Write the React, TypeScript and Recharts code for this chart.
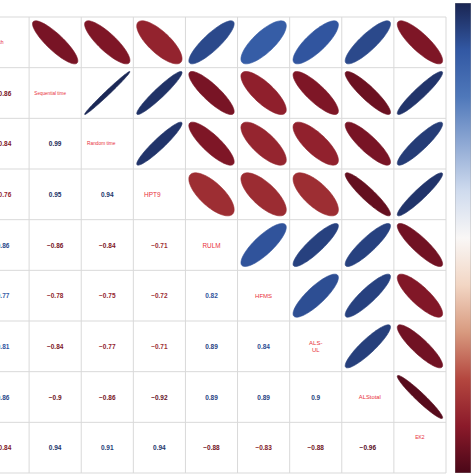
import React from "react";
import {
  ScatterChart,
  Scatter,
  XAxis,
  YAxis,
  CartesianGrid,
  BarChart,
  Bar,
} from "recharts";

const VARS = [
  "Strength",
  "Sequential time",
  "Random time",
  "HPT9",
  "RULM",
  "HFMS",
  "ALS-UL",
  "ALStotal",
  "EK2",
];

// lower triangle of the correlation matrix, row i holds cols 0..i-1
const CORR_LOWER = [
  [],
  [-0.86],
  [-0.84, 0.99],
  [-0.76, 0.95, 0.94],
  [0.86, -0.86, -0.84, -0.71],
  [0.77, -0.78, -0.75, -0.72, 0.82],
  [0.81, -0.84, -0.77, -0.71, 0.89, 0.84],
  [0.86, -0.9, -0.86, -0.92, 0.89, 0.89, 0.9],
  [-0.84, 0.94, 0.91, 0.94, -0.88, -0.83, -0.88, -0.96],
];

const COLORBAR_TICKS = [-1, -0.8, -0.6, -0.4, -0.2, 0, 0.2, 0.4, 0.6, 0.8, 1];

const PALETTE: [number, string][] = [
  [-1, "#4a0718"],
  [-0.8, "#8b1a2a"],
  [-0.6, "#b4473f"],
  [-0.4, "#d89a7f"],
  [-0.2, "#f2d6c4"],
  [0, "#f9f7f6"],
  [0.2, "#cfdbee"],
  [0.4, "#8fa9d4"],
  [0.6, "#4f78ba"],
  [0.8, "#3258a3"],
  [1, "#1a2552"],
];

const N = VARS.length;
const PLOT_W = 469;
const PLOT_H = 456;
const CELL_W = PLOT_W / N;
const CELL_H = PLOT_H / N;
const EW = CELL_W * 0.87;
const EH = CELL_H * 0.85;

const LABEL_STYLE: Record<string, { size: number; dx?: number; dy?: number }> = {
  Strength: { size: 5, dx: -9 },
  "Sequential time": { size: 4.6, dx: -5 },
  "Random time": { size: 4.8, dx: -6 },
  HPT9: { size: 6.5, dx: -7 },
  RULM: { size: 6.4 },
  HFMS: { size: 6 },
  "ALS-UL": { size: 6 },
  ALStotal: { size: 5.8, dx: 2 },
  EK2: { size: 5, dy: -11 },
};

function hexToRgb(h: string) {
  const n = parseInt(h.slice(1), 16);
  return [(n >> 16) & 255, (n >> 8) & 255, n & 255];
}

function corrColor(v: number) {
  for (let i = 0; i < PALETTE.length - 1; i++) {
    const [a, ca] = PALETTE[i];
    const [b, cb] = PALETTE[i + 1];
    if (v >= a && v <= b) {
      const t = (v - a) / (b - a);
      const A = hexToRgb(ca);
      const B = hexToRgb(cb);
      const c = A.map((x, k) => Math.round(x + (B[k] - x) * t));
      return `rgb(${c[0]},${c[1]},${c[2]})`;
    }
  }
  return PALETTE[PALETTE.length - 1][1];
}

function corr(i: number, j: number) {
  if (i === j) return 1;
  return i > j ? CORR_LOWER[i][j] : CORR_LOWER[j][i];
}

const upperData: { x: number; y: number; r: number }[] = [];
const lowerData: { x: number; y: number; r: number }[] = [];
const diagData: { x: number; y: number; label: string }[] = [];
for (let i = 0; i < N; i++) {
  for (let j = 0; j < N; j++) {
    if (i === j) diagData.push({ x: j, y: i, label: VARS[i] });
    else if (j > i) upperData.push({ x: j, y: i, r: corr(i, j) });
    else lowerData.push({ x: j, y: i, r: corr(i, j) });
  }
}

const GRID_TICKS = Array.from({ length: N + 1 }, (_, k) => k - 0.5);

function Ellipse(props: any) {
  const { cx, cy, payload } = props;
  const d = Math.acos(payload.r);
  const pts: string[] = [];
  for (let i = 0; i < 72; i++) {
    const k = (i / 72) * 2 * Math.PI;
    const x = Math.cos(k + d / 2) / 2;
    const y = Math.cos(k - d / 2) / 2;
    pts.push(`${(cx + x * EW).toFixed(2)},${(cy - y * EH).toFixed(2)}`);
  }
  const col = corrColor(payload.r);
  return <path d={"M" + pts.join("L") + "Z"} fill={col} stroke={col} strokeWidth={0.6} />;
}

function fmt(v: number) {
  return String(v).replace("-", "\u2212");
}

function NumberCell(props: any) {
  const { cx, cy, payload } = props;
  return (
    <text
      x={cx}
      y={cy}
      textAnchor="middle"
      dominantBaseline="central"
      fontSize={6.5}
      fontWeight="bold"
      fontFamily="Liberation Sans, Arial, sans-serif"
      fill={corrColor(payload.r)}
    >
      {fmt(payload.r)}
    </text>
  );
}

function DiagLabel(props: any) {
  const { cx, cy, payload } = props;
  const st = LABEL_STYLE[payload.label] || { size: 6 };
  const x = cx + (st.dx || 0);
  const y = cy + (st.dy || 0);
  const common = {
    textAnchor: "middle" as const,
    fontSize: st.size,
    fontFamily: "Liberation Sans, Arial, sans-serif",
    fill: "#e8303a",
  };
  if (payload.label.includes("-")) {
    const [a, b] = payload.label.split("-");
    return (
      <text x={x} y={y} {...common}>
        <tspan x={x} dy={-1}>{a + "-"}</tspan>
        <tspan x={x} dy={st.size * 1.1}>{b}</tspan>
      </text>
    );
  }
  return (
    <text x={x} y={y} dominantBaseline="central" {...common}>
      {payload.label}
    </text>
  );
}

const colorbarData = [{ k: "bar", v: [-1, 1] }];
// gradient stops must go top (value 1) to bottom (value -1)
const gradientStops = [...PALETTE].reverse();

export default function App() {
  return (
    <div
      style={{
        position: "absolute",
        left: 0,
        top: 0,
        width: 474,
        height: 474,
        overflow: "hidden",
        background: "#fff",
      }}
    >
      <div style={{ position: "absolute", left: -24, top: 16 }}>
        <ScatterChart
          width={PLOT_W + 2}
          height={PLOT_H + 2}
          margin={{ top: 1, right: 1, bottom: 1, left: 1 }}
        >
          <CartesianGrid stroke="#d9d9d9" strokeWidth={1} />
          <XAxis
            type="number"
            dataKey="x"
            domain={[-0.5, N - 0.5]}
            ticks={GRID_TICKS}
            hide
          />
          <YAxis
            type="number"
            dataKey="y"
            domain={[-0.5, N - 0.5]}
            ticks={GRID_TICKS}
            reversed
            hide
          />
          <Scatter data={upperData} shape={Ellipse} isAnimationActive={false} />
          <Scatter data={lowerData} shape={NumberCell} isAnimationActive={false} />
          <Scatter data={diagData} shape={DiagLabel} isAnimationActive={false} />
        </ScatterChart>
      </div>
      <div style={{ position: "absolute", left: 455, top: 3 }}>
        <BarChart
          width={16}
          height={470}
          data={colorbarData}
          margin={{ top: 0, right: 0, bottom: 0, left: 0 }}
          barCategoryGap={0}
        >
          <defs>
            <linearGradient id="cbar" x1="0" y1="0" x2="0" y2="1">
              {gradientStops.map(([v, c]) => (
                <stop key={v} offset={`${((1 - v) / 2) * 100}%`} stopColor={c} />
              ))}
            </linearGradient>
          </defs>
          <XAxis dataKey="k" hide />
          <Bar
            dataKey="v"
            fill="url(#cbar)"
            stroke="#9a9a9a"
            strokeWidth={0.6}
            isAnimationActive={false}
          />
          <YAxis
            type="number"
            domain={[-1, 1]}
            ticks={COLORBAR_TICKS}
            orientation="right"
            mirror
            width={0}
            tick={false}
            tickSize={3}
            stroke="#8a8a8a"
          />
        </BarChart>
      </div>
    </div>
  );
}
